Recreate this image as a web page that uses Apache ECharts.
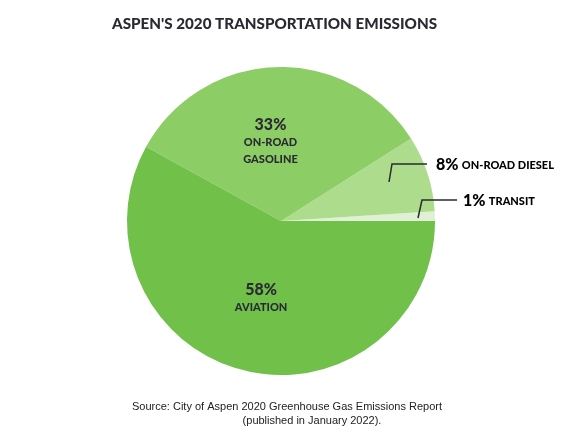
<!DOCTYPE html>
<html>
<head>
<meta charset="utf-8">
<script src="https://cdn.jsdelivr.net/npm/echarts@6/dist/echarts.min.js"></script>
<style>
  html, body { margin: 0; padding: 0; background: #fff; }
  #chart { width: 568px; height: 440px; }
</style>
</head>
<body>
<div id="chart"></div>
<script>
// slices go counter-clockwise from 3 o'clock
const categories = ['TRANSIT', 'ON-ROAD DIESEL', 'ON-ROAD GASOLINE', 'AVIATION'];
const shares = [1, 8, 33, 58];
const sliceColors = ['#e0f0d4', '#acdc8c', '#8dcd66', '#70c04a'];

const titleText = "ASPEN'S 2020 TRANSPORTATION EMISSIONS";
const sourceLines = ['Source: City of Aspen 2020 Greenhouse Gas Emissions Report', '(published in January 2022).'];

const cx = 281, cy = 221, R = 154;
const ink = '#2a2a33';
const headFont = 'Lato';

// callouts for the two thin slices, offsets from pie centre
const callouts = {
  0: { label: [182, -20], pts: [[137, -3], [141, -21], [176, -21]] },
  1: { label: [155, -56], pts: [[108, -39], [111, -57], [146, -57]] }
};

const richStyles = {
  p: { fontFamily: headFont, fontWeight: 900, fontSize: 16, color: ink, lineHeight: 17 },
  n: { fontFamily: headFont, fontWeight: 900, fontSize: 11, color: ink, lineHeight: 17 }
};

window.onload = function () {
  const chart = echarts.init(document.getElementById('chart'));

  const data = categories.map(function (name, i) {
    const item = { name: name, value: shares[i], itemStyle: { color: sliceColors[i] } };
    if (callouts[i]) {
      item.label = { show: false };
    } else {
      const lines = name.split(' ');
      item.label = {
        show: true,
        position: 'inside',
        offset: i === 2 ? [-8, 1] : [0, 0],
        formatter: '{p|' + shares[i] + '%}\n' + lines.map(function (l) { return '{n|' + l + '}'; }).join('\n')
      };
    }
    return item;
  });

  const graphics = [];
  Object.keys(callouts).forEach(function (k) {
    const i = +k, c = callouts[k];
    graphics.push({
      type: 'polyline', silent: true, z: 100,
      shape: { points: c.pts.map(function (p) { return [cx + p[0], cy + p[1]]; }) },
      style: { stroke: ink, lineWidth: 1.5, fill: null }
    });
    graphics.push({
      type: 'text', silent: true, z: 100,
      x: cx + c.label[0], y: cy + c.label[1],
      style: {
        text: '{p|' + shares[i] + '%} {n|' + categories[i] + '}',
        rich: richStyles,
        align: 'left', verticalAlign: 'middle'
      }
    });
  });
  graphics.push({
    type: 'text', silent: true, x: 287, y: 407,
    style: { text: sourceLines[0], font: '11px "Liberation Sans"', fill: '#222', align: 'center', verticalAlign: 'middle' }
  });
  graphics.push({
    type: 'text', silent: true, x: 312, y: 421,
    style: { text: sourceLines[1], font: '11px "Liberation Sans"', fill: '#222', align: 'center', verticalAlign: 'middle' }
  });

  const option = {
    animation: false,
    backgroundColor: '#fff',
    title: {
      text: titleText, left: 107, top: 12,
      textStyle: { fontFamily: headFont, fontWeight: 900, fontSize: 15.2, color: ink }
    },
    graphic: graphics,
    series: [{
      type: 'pie',
      center: [cx, cy],
      radius: R,
      startAngle: 0,
      clockwise: false,
      silent: true,
      emphasis: { disabled: true },
      itemStyle: { borderWidth: 0 },
      label: { color: ink, lineHeight: 17, rich: richStyles },
      labelLine: { show: false },
      data: data
    }]
  };

  chart.setOption(option);
};
</script>
</body>
</html>
